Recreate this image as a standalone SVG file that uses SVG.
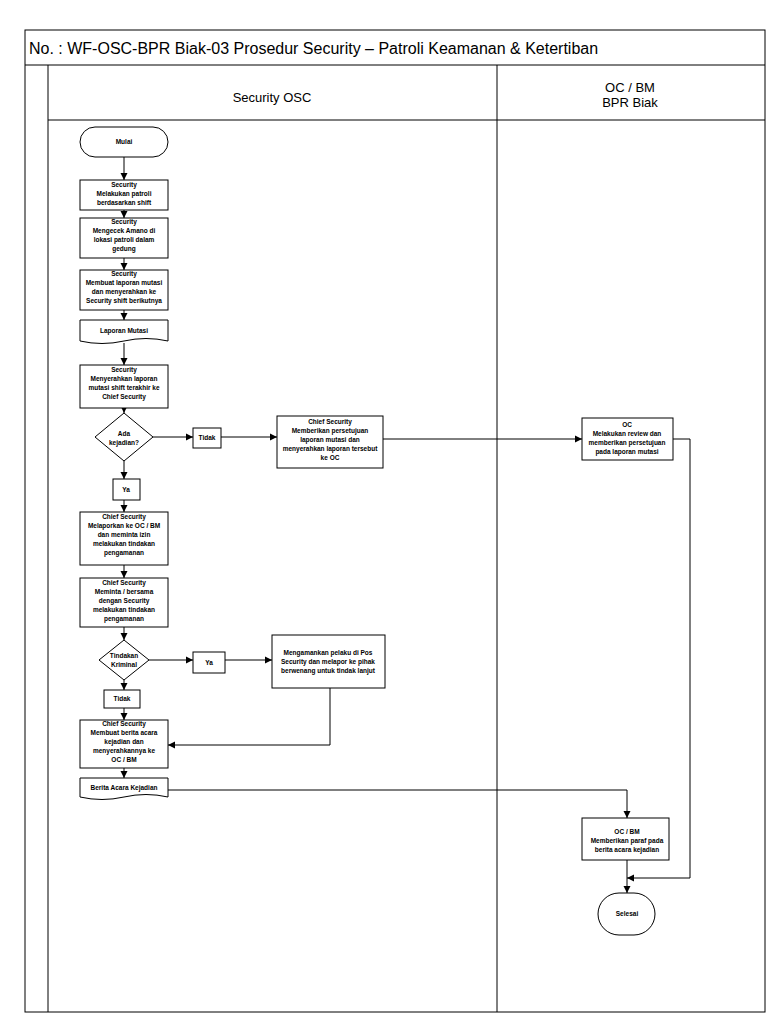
<svg xmlns="http://www.w3.org/2000/svg" width="768" height="1024" viewBox="0 0 768 1024">
<style>
.f{fill:#fff;stroke:#000;stroke-width:1}
.ln{fill:none;stroke:#000;stroke-width:1}
.t{font-family:"Liberation Sans",Arial,sans-serif;font-size:6.5px;font-weight:bold;text-anchor:middle;fill:#000}
.h{font-family:"Liberation Sans",Arial,sans-serif;font-size:13px;fill:#000;text-anchor:middle}
</style>
<defs><marker id="a" markerWidth="8" markerHeight="8" refX="7" refY="4" orient="auto" markerUnits="userSpaceOnUse"><path d="M0,0.5 L7,4 L0,7.5z" fill="#000"/></marker></defs>
<rect width="768" height="1024" fill="#fff"/>
<g id="frame">
<rect x="25" y="30" width="740" height="982" class="ln"/>
<line x1="25" y1="65" x2="765" y2="65" class="ln"/>
<line x1="48" y1="120" x2="765" y2="120" class="ln"/>
<line x1="48" y1="65" x2="48" y2="1012" class="ln"/>
<line x1="497" y1="65" x2="497" y2="1012" class="ln"/>
<text x="29" y="54" font-family="Liberation Sans,Arial,sans-serif" font-size="16">No. : WF-OSC-BPR Biak-03 Prosedur Security – Patroli Keamanan &amp; Ketertiban</text>
<text x="272" y="102" class="h">Security OSC</text>
<text x="630" y="92" class="h">OC / BM</text>
<text x="630" y="107" class="h">BPR Biak</text>
</g>
<g id="connectors" class="ln">
<line x1="124" y1="157" x2="124" y2="180" marker-end="url(#a)"/>
<line x1="124" y1="210" x2="124" y2="218" marker-end="url(#a)"/>
<line x1="124" y1="258" x2="124" y2="270" marker-end="url(#a)"/>
<line x1="124" y1="310" x2="124" y2="320" marker-end="url(#a)"/>
<line x1="124" y1="343" x2="124" y2="365" marker-end="url(#a)"/>
<line x1="124" y1="408" x2="124" y2="413" marker-end="url(#a)"/>
<line x1="153" y1="437" x2="193" y2="437" marker-end="url(#a)"/>
<line x1="221" y1="437" x2="277" y2="437" marker-end="url(#a)"/>
<line x1="383" y1="439" x2="582" y2="439" marker-end="url(#a)"/>
<line x1="124" y1="461" x2="124" y2="479" marker-end="url(#a)"/>
<line x1="124" y1="500" x2="124" y2="512" marker-end="url(#a)"/>
<line x1="124" y1="565" x2="124" y2="578" marker-end="url(#a)"/>
<line x1="124" y1="627" x2="124" y2="640" marker-end="url(#a)"/>
<line x1="149" y1="660" x2="193" y2="660" marker-end="url(#a)"/>
<line x1="225" y1="660" x2="272" y2="660" marker-end="url(#a)"/>
<line x1="124" y1="680" x2="124" y2="690" marker-end="url(#a)"/>
<line x1="124" y1="708" x2="124" y2="720" marker-end="url(#a)"/>
<polyline points="330,688 330,745 168,745" marker-end="url(#a)"/>
<line x1="124" y1="768" x2="124" y2="778" marker-end="url(#a)"/>
<polyline points="168,790 627,790 627,818" marker-end="url(#a)"/>
<polyline points="673,439 690,439 690,878 627,878" marker-end="url(#a)"/>
<line x1="627" y1="860" x2="627" y2="893" marker-end="url(#a)"/>
</g>
<g id="mulai"><rect x="80" y="127" width="88" height="30" rx="15" class="f"/><text x="124" y="144" class="t">Mulai</text></g>
<g id="s1"><rect x="80" y="180" width="88" height="30" class="f"/><text class="t"><tspan x="124" y="187">Security</tspan><tspan x="124" y="196">Melakukan patroli</tspan><tspan x="124" y="205">berdasarkan shift</tspan></text></g>
<g id="s2"><rect x="80" y="218" width="88" height="40" class="f"/><text class="t"><tspan x="124" y="224">Security</tspan><tspan x="124" y="233">Mengecek Amano di</tspan><tspan x="124" y="242">lokasi patroli dalam</tspan><tspan x="124" y="251">gedung</tspan></text></g>
<g id="s3"><rect x="80" y="270" width="88" height="40" class="f"/><text class="t"><tspan x="124" y="276">Security</tspan><tspan x="124" y="285">Membuat laporan mutasi</tspan><tspan x="124" y="294">dan menyerahkan ke</tspan><tspan x="124" y="303">Security shift berikutnya</tspan></text></g>
<g id="doc1"><path d="M80,320 H168 V341 Q146,336 124,341 Q102,346 80,341 Z" class="f"/><text x="124" y="333" class="t">Laporan Mutasi</text></g>
<g id="s4"><rect x="80" y="365" width="88" height="43" class="f"/><text class="t"><tspan x="124" y="372">Security</tspan><tspan x="124" y="381">Menyerahkan laporan</tspan><tspan x="124" y="390">mutasi shift terakhir ke</tspan><tspan x="124" y="399">Chief Security</tspan></text></g>
<g id="d1"><polygon points="124,413 153,437 124,461 95,437" class="f"/><text class="t"><tspan x="124" y="436">Ada</tspan><tspan x="124" y="445">kejadian?</tspan></text></g>
<g id="tidak1"><rect x="193" y="428" width="28" height="20" class="f"/><text x="207" y="440" class="t">Tidak</text></g>
<g id="cs1"><rect x="277" y="416" width="106" height="52" class="f"/><text class="t"><tspan x="330" y="424">Chief Security</tspan><tspan x="330" y="433">Memberikan persetujuan</tspan><tspan x="330" y="442">laporan mutasi dan</tspan><tspan x="330" y="451">menyerahkan laporan tersebut</tspan><tspan x="330" y="460">ke OC</tspan></text></g>
<g id="oc1"><rect x="582" y="418" width="91" height="42" class="f"/><text class="t"><tspan x="627" y="427">OC</tspan><tspan x="627" y="436">Melakukan review dan</tspan><tspan x="627" y="445">memberikan persetujuan</tspan><tspan x="627" y="454">pada laporan mutasi</tspan></text></g>
<g id="ya1"><rect x="113" y="479" width="27" height="21" class="f"/><text x="126" y="492" class="t">Ya</text></g>
<g id="cs2"><rect x="80" y="512" width="88" height="53" class="f"/><text class="t"><tspan x="124" y="519">Chief Security</tspan><tspan x="124" y="528">Melaporkan ke OC / BM</tspan><tspan x="124" y="537">dan meminta izin</tspan><tspan x="124" y="546">melakukan tindakan</tspan><tspan x="124" y="555">pengamanan</tspan></text></g>
<g id="cs3"><rect x="80" y="578" width="88" height="49" class="f"/><text class="t"><tspan x="124" y="585">Chief Security</tspan><tspan x="124" y="594">Meminta / bersama</tspan><tspan x="124" y="603">dengan Security</tspan><tspan x="124" y="612">melakukan tindakan</tspan><tspan x="124" y="621">pengamanan</tspan></text></g>
<g id="d2"><polygon points="124,640 149,660 124,680 99,660" class="f"/><text class="t"><tspan x="124" y="658">Tindakan</tspan><tspan x="124" y="667">Kriminal</tspan></text></g>
<g id="ya2"><rect x="193" y="652" width="32" height="21" class="f"/><text x="209" y="665" class="t">Ya</text></g>
<g id="aman"><rect x="272" y="635" width="113" height="53" class="f"/><text class="t"><tspan x="328" y="655">Mengamankan pelaku di Pos</tspan><tspan x="328" y="664">Security dan melapor ke pihak</tspan><tspan x="328" y="673">berwenang untuk tindak lanjut</tspan></text></g>
<g id="tidak2"><rect x="104" y="690" width="36" height="18" class="f"/><text x="122" y="701" class="t">Tidak</text></g>
<g id="cs4"><rect x="80" y="720" width="88" height="48" class="f"/><text class="t"><tspan x="124" y="726">Chief Security</tspan><tspan x="124" y="735">Membuat berita acara</tspan><tspan x="124" y="744">kejadian dan</tspan><tspan x="124" y="753">menyerahkannya ke</tspan><tspan x="124" y="762">OC / BM</tspan></text></g>
<g id="doc2"><path d="M80,778 H168 V797 Q146,792 124,797 Q102,802 80,797 Z" class="f"/><text x="124" y="790" class="t">Berita Acara Kejadian</text></g>
<g id="ocbm"><rect x="582" y="818" width="87" height="42" class="f"/><text class="t"><tspan x="627" y="834">OC / BM</tspan><tspan x="627" y="843">Memberikan paraf pada</tspan><tspan x="627" y="852">berita acara kejadian</tspan></text></g>
<g id="selesai"><rect x="598" y="893" width="57" height="42" rx="21" class="f"/><text x="627" y="916" class="t">Selesai</text></g>
</svg>
